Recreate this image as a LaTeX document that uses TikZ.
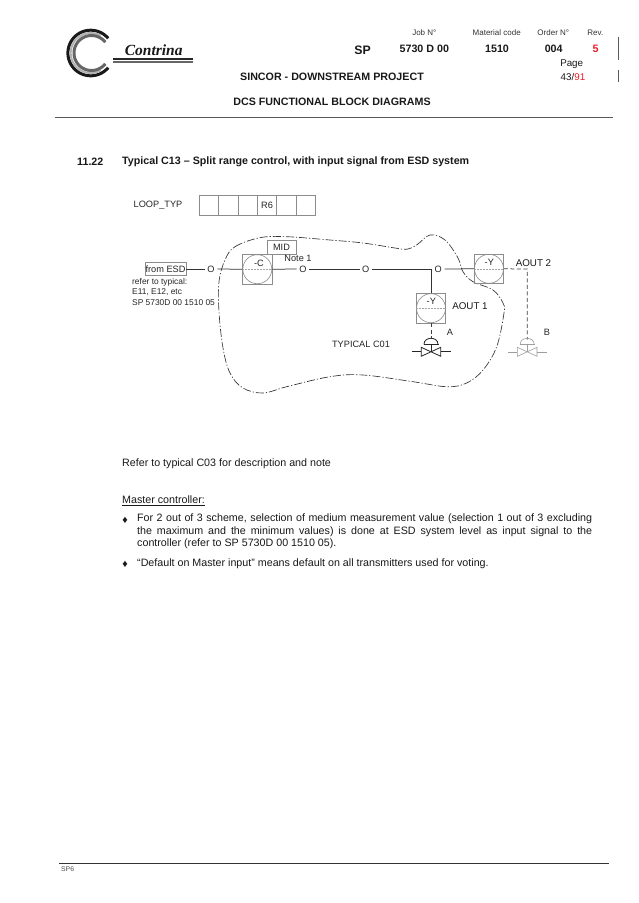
\documentclass[tikz,border=0pt]{standalone}
\usepackage{fontspec}
\setmainfont{Liberation Sans}
\newfontfamily\logofont{Liberation Serif}
\definecolor{boxgrey}{gray}{0.55}
\definecolor{redtxt}{RGB}{230,30,40}
\definecolor{ghost}{gray}{0.62}
\tikzset{
  x=1pt,y=-1pt,
  lab/.style={inner sep=0pt,font=\fontsize{9.2}{11}\selectfont,text=black!85},
  smalltxt/.style={inner sep=0pt,font=\fontsize{8.4}{10.2}\selectfont,text=black!85},
  hdr/.style={inner sep=0pt,font=\fontsize{8}{10}\selectfont,text=black!80},
  boldtxt/.style={inner sep=0pt,font=\bfseries\fontsize{10.7}{13}\selectfont,text=black!90},
  bodytxt/.style={inner sep=0pt,font=\fontsize{10.7}{14}\selectfont,text=black!90},
  paratxt/.style={inner sep=0pt,font=\fontsize{10.7}{12.5}\selectfont,text=black!90,anchor=north west,text width=455pt,align=justify},
  cell/.style={draw=boxgrey,line width=.6pt,minimum width=19.33pt,minimum height=20.4pt,inner sep=0pt,font=\fontsize{9.2}{11}\selectfont,text=black!85},
  opt/.style={inner sep=2.5pt,font=\fontsize{9.2}{11}\selectfont,text=black!85},
  sig/.style={line width=.75pt,black!80},
  sigd/.style={line width=.75pt,black!75,dash pattern=on 4pt off 2.5pt},
  instr/.style={draw=boxgrey,line width=.6pt,minimum size=29.3pt,inner sep=0pt},
  bubble/.style={circle,draw=boxgrey,line width=.6pt,minimum size=29pt,inner sep=0pt},
  inner/.style={line width=.5pt,boxgrey!80,dash pattern=on 2pt off 1pt},
  cloudline/.style={line width=.65pt,black!80,dash pattern=on 8pt off 2pt on 1.2pt off 2pt}
}
\newcommand{\drawvalve}[3]{%
  \begin{scope}[shift={(#1,#2)},#3]
    \draw (-19.5,13.5) -- (-9.8,13.5) (9.8,13.5) -- (19.5,13.5);
    \draw (-9.8,9) -- (9.8,18) -- (9.8,9) -- (-9.8,18) -- cycle;
    \draw (0,13.5) -- (0,6);
    \draw (-7.5,6) -- (7.5,6);
    \draw (-7,6) .. controls (-7,-2) and (7,-2) .. (7,6);
  \end{scope}}
\begin{document}
\begin{tikzpicture}
\useasboundingbox (0,0) rectangle (638,903);
\fill[white] (0,0) rectangle (638,903);
% logo
\draw[line width=3pt,black!90] plot[smooth,domain=40:320,samples=50] ({90.7+22.8*cos(\x)},{53+22.8*sin(\x)});
\draw[line width=2pt,black!30] plot[smooth,domain=60:300,samples=40] ({90.7+20*cos(\x)},{53+20*sin(\x)});
\draw[line width=3pt,black!60] plot[smooth,domain=38:322,samples=50] ({91.5+17.5*cos(\x)},{53+17.5*sin(\x)});
\node[inner sep=0pt,font=\logofont\bfseries\itshape\fontsize{15.5}{18}\selectfont,text=black!90] (brand) at (153.7,50) {Contrina};
\draw[line width=1.3pt,black!85] (113.3,59) -- (192.7,59);
\draw[line width=2pt,black!60] (113.3,61.7) -- (192.7,61.7);
% header
\node[hdr] (hjob) at (424.3,33) {Job N°};
\node[hdr] (hmat) at (496.7,33) {Material code};
\node[hdr] (hord) at (553.3,33) {Order N°};
\node[hdr] (hrev) at (595.3,33) {Rev.};
\node[inner sep=0pt,font=\bfseries\fontsize{12.3}{14}\selectfont,text=black!90] (hsp) at (362.7,50.5) {SP};
\node[boldtxt] (vjob) at (424.3,49) {5730 D 00};
\node[boldtxt] (vmat) at (497,49) {1510};
\node[boldtxt] (vord) at (553.7,49) {004};
\node[boldtxt,text=redtxt] (vrev) at (595.7,49) {5};
\node[bodytxt,font=\fontsize{9.8}{12}\selectfont] (hpage) at (571.7,64.5) {Page};
\node[bodytxt,font=\fontsize{9.8}{12}\selectfont] (vpage) at (573,76.7) {43/\textcolor{redtxt}{91}};
\node[boldtxt] (t1) at (332,77) {SINCOR - DOWNSTREAM PROJECT};
\node[boldtxt] (t2) at (332,102) {DCS FUNCTIONAL BLOCK DIAGRAMS};
\draw[line width=.9pt,black!65] (618.3,37.3) -- (618.3,60) (618.3,70) -- (618.3,81.7);
\draw[line width=1pt,black!65] (54.7,117.6) -- (612.7,117.6);
% section title
\node[boldtxt,anchor=west] (secn) at (77,162) {11.22};
\node[boldtxt,anchor=west] (sect) at (122,162) {Typical C13 – Split range control, with input signal from ESD system};
% loop type row
\node[lab,anchor=west] (loop) at (133.5,205) {LOOP\_TYP};
\node[cell] (c1) at (209,205.5) {};
\node[cell] (c2) at (228.3,205.5) {};
\node[cell] (c3) at (247.6,205.5) {};
\node[cell] (c4) at (267,205.5) {R6};
\node[cell] (c5) at (286.3,205.5) {};
\node[cell] (c6) at (305.6,205.5) {};
% boundary
\draw[cloudline] plot[smooth cycle,tension=.6] coordinates {
 (225,260) (235,246.7) (260,237.7) (286.7,236.7) (330,240) (363,243) (395,248) (406.7,249.3)
 (416.7,245) (430,235) (445,240) (458,258) (463,271.7) (473,281.7) (493,290) (503,303) (504,313)
 (496.7,346.7) (483,370) (466.7,383) (446.7,386.7) (413,381.7) (363,375) (330,376.7) (286.7,386.7)
 (263,393) (243,388) (230,373) (223,348) (219,311.7) (219,281.7)};
% signal nodes
\node[draw=boxgrey,line width=.6pt,inner sep=0pt,minimum width=41pt,minimum height=13.4pt,font=\fontsize{9.2}{11}\selectfont,text=black!85] (esd) at (165.5,269) {from ESD};
\node[opt] (o1) at (211,269) {O};
\node[instr] (cs) at (257.3,269.2) {};
\node[bubble] (cc) at (257.3,269.2) {};
\node[draw=boxgrey,line width=.6pt,inner sep=0pt,minimum width=29pt,minimum height=14.3pt,font=\fontsize{9.2}{11}\selectfont,text=black!85] (mid) at (281.5,247.2) {MID};
\node[lab] (note) at (298,258) {Note 1};
\node[opt] (o2) at (303,269) {O};
\node[opt] (o3) at (365.8,269) {O};
\node[opt] (o4) at (438.3,269) {O};
\coordinate (jn) at (431,269);
\node[instr] (y1s) at (431,308.2) {};
\node[bubble] (y1c) at (431,308.2) {};
\node[instr] (y2s) at (489,268.8) {};
\node[bubble] (y2c) at (489,268.8) {};
\coordinate (va) at (431,338.3);
\coordinate (vb) at (527.2,339.5);
\coordinate (cr) at (527.2,269);
\draw[inner] (cs.west) -- (cs.east);
\draw[inner] (y1s.west) -- (y1s.east);
\draw[inner] (y2s.west) -- (y2s.east);
\node[lab] (cl) at (259,263) {-C};
\node[lab] (y1l) at (431.3,301.5) {-Y};
\node[lab] (y2l) at (489.3,262.5) {-Y};
% connectors
\draw[sig] (esd) -- (o1);
\draw[sig] (o1) -- (cs.west);
\draw[sig] (cs.east) -- (o2);
\draw[sig] (o2) -- (o3);
\draw[sig] (o3) -- (jn) -- (y1s.north);
\draw[sig] (o4) -- (y2s.west);
\draw[sigd] (y1s.south) -- (va);
\draw[sigd] (y2s.east) -- (cr) -- (vb);
% valves
\drawvalve{431}{338.3}{line width=.8pt,black!85}
\drawvalve{527.2}{338.3}{line width=.6pt,ghost}
% labels
\node[smalltxt,anchor=west] (r1) at (132,282) {refer to typical:};
\node[smalltxt,anchor=west] (r2) at (132,292) {E11, E12, etc};
\node[smalltxt,anchor=west] (r3) at (132,302.3) {SP 5730D 00 1510 05};
\node[bodytxt,font=\fontsize{9.8}{12}\selectfont] (ao2) at (533.5,263) {AOUT 2};
\node[bodytxt,font=\fontsize{9.8}{12}\selectfont] (ao1) at (470,306.5) {AOUT 1};
\node[lab] (la) at (450,332) {A};
\node[lab] (lb) at (547,332) {B};
\node[lab] (typ) at (361,344) {TYPICAL C01};
% body text
\node[bodytxt,anchor=west] (b1) at (122,463.5) {Refer to typical C03 for description and note};
\node[bodytxt,anchor=west] (b2) at (122,500.5) {\underline{Master controller:}};
\node[bodytxt] (d1) at (125,520) {♦};
\node[paratxt] (p1) at (137,514) {\hyphenpenalty=10000 For 2 out of 3 scheme, selection of medium measurement value (selection 1 out of 3 excluding\linebreak the maximum and the minimum values) is done at ESD system level as input signal to the\linebreak controller (refer to SP 5730D 00 1510 05).};
\node[bodytxt] (d2) at (125,564) {♦};
\node[bodytxt,anchor=west] (p2) at (137,564) {“Default on Master input” means default on all transmitters used for voting.};
% footer
\draw[line width=.9pt,black!80] (59,863.3) -- (609,863.3);
\node[inner sep=0pt,font=\fontsize{6.8}{8}\selectfont,text=black!70,anchor=west] (foot) at (61,869) {SP6};
\end{tikzpicture}
\end{document}
